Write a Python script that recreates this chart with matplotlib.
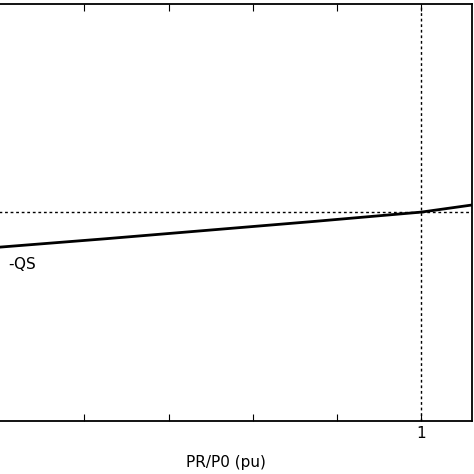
import matplotlib
matplotlib.use("Agg")
import matplotlib.pyplot as plt

x = [0.0, 0.25, 0.5, 0.75, 1.0, 1.12]
qs = [0.417, 0.437, 0.458, 0.479, 0.501, 0.518]
xticks = [0.2, 0.4, 0.6, 0.8, 1.0]
xticklabels = ["", "", "", "", "1"]

fig = plt.figure(figsize=(4.74, 4.74), dpi=100)
L = -21/474
ax = fig.add_axes([L, 1-421/474, (472+21)/474, 417/474])
ax.plot(x, qs, color="black", lw=2)
ax.axhline(0.501, color="black", ls=(0, (2, 2)), lw=1)
ax.axvline(1.0, color="black", ls=(0, (2, 2)), lw=1)
ax.set_xlim(-0.05, 1.12)
ax.set_ylim(0, 1)
ax.set_xticks(xticks)
ax.set_xticklabels(xticklabels, fontsize=11)
ax.tick_params(axis="x", direction="in", top=True, length=5)
ax.set_yticks([])
for s in ax.spines.values():
    s.set_linewidth(1.3)
ax.set_xlabel("PR/P0 (pu)", fontsize=11, labelpad=10)
ax.text(0.02, 0.375, "-QS", fontsize=11, va="center", ha="left")
fig.savefig("out.png", dpi=100)
